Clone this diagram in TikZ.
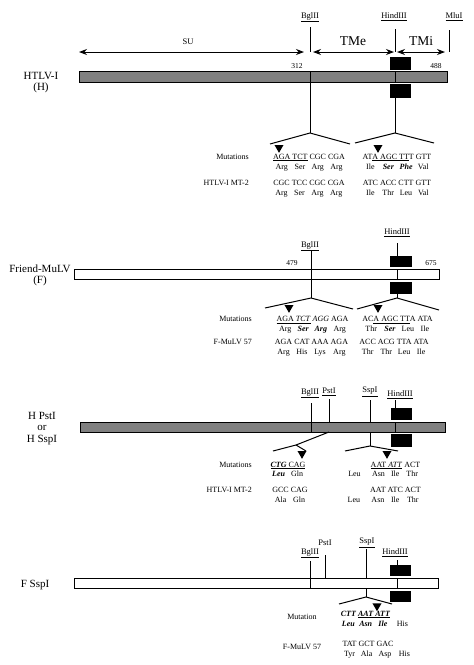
\documentclass[tikz,border=0pt]{standalone}
\usepackage{fontspec}
\setmainfont{Liberation Serif}
\usetikzlibrary{arrows.meta,shapes.geometric}
\newlength{\codwd}
\newcommand{\amino}[2]{\settowidth{\codwd}{#1}\makebox[\codwd][c]{#2}}
\newcommand{\mutres}[1]{\textbf{\textit{#1}}}
\tikzset{
  gene/.style={draw,line width=1pt},
  htlv/.style={gene,fill=black!50},
  fmulv/.style={gene,fill=white},
  cut/.style={fill=black,regular polygon,regular polygon sides=3,
    shape border rotate=180,minimum size=10.4pt,inner sep=0pt},
  site/.style={font=\fontsize{8.5}{10}\selectfont,inner sep=0pt},
  num/.style={font=\fontsize{7.5}{9}\selectfont,inner sep=0pt},
  seq/.style={font=\fontsize{8}{9.5}\selectfont,inner sep=0pt,anchor=base},
  tag/.style={seq,anchor=base east},
  virus/.style={font=\fontsize{11}{11.5}\selectfont,align=center,inner sep=0pt},
  dom/.style={font=\fontsize{13.5}{14}\selectfont,inner sep=0pt},
}
\begin{document}
\begin{tikzpicture}[x=1pt,y=-1pt,>={Stealth[length=8pt,width=6pt]}]
  \useasboundingbox (0,0) rectangle (474,665);
  % HTLV-I (H)
  \draw[htlv] (79,71) rectangle (447,82);
  \draw[gene] (310,71) -- (310,82) (395,71) -- (395,82);
  \fill (390,57) rectangle (411,70);
  \fill (390,84) rectangle (411,98);
  \node[virus] (hName) at (41,82.5) {HTLV-I\\(H)};
  \node[site] (hBgl) at (310,17) {\underline{BglII}};
  \node[site] (hHind) at (394,17) {\underline{HindIII}};
  \node[site] (hMlu) at (454,17) {\underline{MluI}};
  \draw[gene] (310,27) -- (310,52);
  \draw[gene] (395,29) -- (395,52);
  \draw[gene] (449,30) -- (449,52);
  \draw[gene,<->] (79,52) -- (304,52);
  \draw[gene,<->] (313,52) -- (394,52);
  \draw[gene,<->] (397,52) -- (445,52);
  \node[site] (su) at (188,42) {SU};
  \node[dom] (tme) at (353,41) {TMe};
  \node[dom] (tmi) at (421,41) {TMi};
  \node[num] (h312) at (297,66) {312};
  \node[num] (h488) at (436,66) {488};
  \coordinate (hV1) at (310,133);
  \coordinate (hV2) at (395,133);
  \draw[gene] (310,82) -- (hV1);
  \draw[gene] (395,98) -- (hV2);
  \draw[gene] (270,144) -- (hV1) -- (350,144);
  \draw[gene] (355,143) -- (hV2) -- (434,143);
  \node[cut] (hCut1) at (279,147.6) {};
  \node[cut] (hCut2) at (378,147.6) {};
  \node[tag] (hMut) at (249,159) {Mutations};
  \node[seq] (hMutL) at (309,159) {\underline{AGA TCT} CGC CGA};
  \node[seq] (hMutLa) at (309,169) {\amino{AGA}{Arg} \amino{TCT}{Ser} \amino{CGC}{Arg} \amino{CGA}{Arg}};
  \node[seq] (hMutR) at (397,159) {AT\underline{A AGC TT}T GTT};
  \node[seq] (hMutRa) at (397,169) {\amino{ATA}{Ile} \amino{AGC}{\mutres{Ser}} \amino{TTT}{\mutres{Phe}} \amino{GTT}{Val}};
  \node[tag] (hWt) at (249,185) {HTLV-I MT-2};
  \node[seq] (hWtL) at (309,185) {CGC TCC CGC CGA};
  \node[seq] (hWtLa) at (309,195) {\amino{CGC}{Arg} \amino{TCC}{Ser} \amino{CGC}{Arg} \amino{CGA}{Arg}};
  \node[seq] (hWtR) at (397,185) {ATC ACC CTT GTT};
  \node[seq] (hWtRa) at (397,195) {\amino{ATC}{Ile} \amino{ACC}{Thr} \amino{CTT}{Leu} \amino{GTT}{Val}};

  % Friend-MuLV (F)
  \draw[fmulv] (74,269) rectangle (439,279);
  \draw[gene] (311,269) -- (311,279) (397,269) -- (397,279);
  \fill (390,256) rectangle (412,267);
  \fill (390,282) rectangle (412,294);
  \node[virus] (fName) at (40,275.5) {Friend-MuLV\\(F)};
  \node[site] (fBgl) at (310,246) {\underline{BglII}};
  \node[site] (fHind) at (397,233) {\underline{HindIII}};
  \draw[gene] (311,251) -- (311,269);
  \draw[gene] (397,243) -- (397,256);
  \node[num] (f479) at (292,263) {479};
  \node[num] (f675) at (431,263) {675};
  \coordinate (fV1) at (311,298);
  \coordinate (fV2) at (397,298);
  \draw[gene] (311,279) -- (fV1);
  \draw[gene] (397,294) -- (fV2);
  \draw[gene] (265,308) -- (fV1) -- (353,309);
  \draw[gene] (357,309) -- (fV2) -- (439,310);
  \node[cut] (fCut1) at (289,307.6) {};
  \node[cut] (fCut2) at (378,307.6) {};
  \node[tag] (fMut) at (252,321.5) {Mutations};
  \node[seq] (fMutL) at (312.5,321.5) {\underline{AGA \textit{TCT}} \textit{AGG} AGA};
  \node[seq] (fMutLa) at (312.5,331) {\amino{AGA}{Arg} \amino{\textit{TCT}}{\mutres{Ser}} \amino{\textit{AGG}}{\mutres{Arg}} \amino{AGA}{Arg}};
  \node[seq] (fMutR) at (397.5,321.5) {AC\underline{A AGC TT}A ATA};
  \node[seq] (fMutRa) at (397.5,331) {\amino{ACA}{Thr} \amino{AGC}{\mutres{Ser}} \amino{TTA}{Leu} \amino{ATA}{Ile}};
  \node[tag] (fWt) at (252,344.5) {F-MuLV 57};
  \node[seq] (fWtL) at (311.5,344.5) {AGA CAT AAA AGA};
  \node[seq] (fWtLa) at (311.5,354.5) {\amino{AGA}{Arg} \amino{CAT}{His} \amino{AAA}{Lys} \amino{AGA}{Arg}};
  \node[seq] (fWtR) at (394,344.5) {ACC ACG TTA ATA};
  \node[seq] (fWtRa) at (394,354.5) {\amino{ACC}{Thr} \amino{ACG}{Thr} \amino{TTA}{Leu} \amino{ATA}{Ile}};

  % H PstI or H SspI
  \draw[htlv] (80,422) rectangle (445,432);
  \draw[gene] (311,422) -- (311,432) (395,422) -- (395,432);
  \fill (391,408) rectangle (412,420);
  \fill (391,434) rectangle (412,447);
  \node[virus] (pName) at (42,428.5) {H PstI\\or\\H SspI};
  \node[site] (pBgl) at (310,393) {\underline{BglII}};
  \node[site] (pPst) at (329,392) {\underline{PstI}};
  \node[site] (pSsp) at (370,392) {\underline{SspI}};
  \node[site] (pHind) at (400,395) {\underline{HindIII}};
  \draw[gene] (311,403) -- (311,422);
  \draw[gene] (329,399) -- (329,422);
  \draw[gene] (370,400) -- (370,422);
  \draw[gene] (395,400) -- (395,408);
  \coordinate (pV1) at (296,445);
  \coordinate (pV2) at (370,446);
  \draw[gene] (329,432) -- (pV1) -- (273,451);
  \draw[gene] (pV1) -- (306,451);
  \draw[gene] (370,432) -- (pV2);
  \draw[gene] (345,451) -- (pV2) -- (398,451);
  \node[cut] (pCut1) at (302,453.6) {};
  \node[cut] (pCut2) at (387,453.6) {};
  \node[tag] (pMut) at (252,467) {Mutations};
  \node[seq] (pMutL) at (288,467) {\underline{\mutres{CTG} CAG}};
  \node[seq] (pMutLa) at (288,476) {\amino{\mutres{CTG}}{\mutres{Leu}} \amino{CAG}{Gln}};
  \node[seq] (pMutR) at (395.5,467) {\underline{AAT \textit{ATT}} ACT};
  \node[seq] (pMutRa) at (395.5,476) {\llap{Leu\hspace{10pt}}\amino{AAT}{Asn} \amino{\textit{ATT}}{Ile} \amino{ACT}{Thr}};
  \node[tag] (pWt) at (252,492) {HTLV-I MT-2};
  \node[seq] (pWtL) at (290,492) {GCC CAG};
  \node[seq] (pWtLa) at (290,502) {\amino{GCC}{Ala} \amino{CAG}{Gln}};
  \node[seq] (pWtR) at (395.5,492) {AAT ATC ACT};
  \node[seq] (pWtRa) at (395.5,502) {\llap{Leu\hspace{10pt}}\amino{AAT}{Asn} \amino{ATC}{Ile} \amino{ACT}{Thr}};

  % F SspI
  \draw[fmulv] (74,578) rectangle (438,588);
  \draw[gene] (310,578) -- (310,588) (397,578) -- (397,588);
  \fill (390,565) rectangle (411,576);
  \fill (390,591) rectangle (411,602);
  \node[virus] (sName) at (35,585) {F SspI};
  \node[site] (sPst) at (325,543) {PstI};
  \node[site] (sSsp) at (367,543) {\underline{SspI}};
  \node[site] (sBgl) at (310,553) {\underline{BglII}};
  \node[site] (sHind) at (395,553) {\underline{HindIII}};
  \draw[gene] (310,561) -- (310,578);
  \draw[gene] (325,555) -- (325,578);
  \draw[gene] (366,549) -- (366,578);
  \draw[gene] (397,560) -- (397,565);
  \coordinate (sV) at (366,597);
  \draw[gene] (366,588) -- (sV);
  \draw[gene] (339,604) -- (sV) -- (392,604);
  \node[cut] (sCut) at (377,606) {};
  \node[seq] (sMut) at (302,619) {Mutation};
  \node[seq] (sMutS) at (365.5,616) {\mutres{CTT} \underline{\mutres{AAT ATT}}};
  \node[seq] (sMutSa) at (365.5,626) {\amino{\mutres{CTT}}{\mutres{Leu}} \amino{\mutres{AAT}}{\mutres{Asn}} \amino{\mutres{ATT}}{\mutres{Ile}}\rlap{\hspace{6.5pt}His}};
  \node[seq] (sWt) at (302,649) {F-MuLV 57};
  \node[seq] (sWtS) at (368,646) {TAT GCT GAC};
  \node[seq] (sWtSa) at (368,656) {\amino{TAT}{Tyr} \amino{GCT}{Ala} \amino{GAC}{Asp}\rlap{\hspace{5.5pt}His}};
\end{tikzpicture}
\end{document}
